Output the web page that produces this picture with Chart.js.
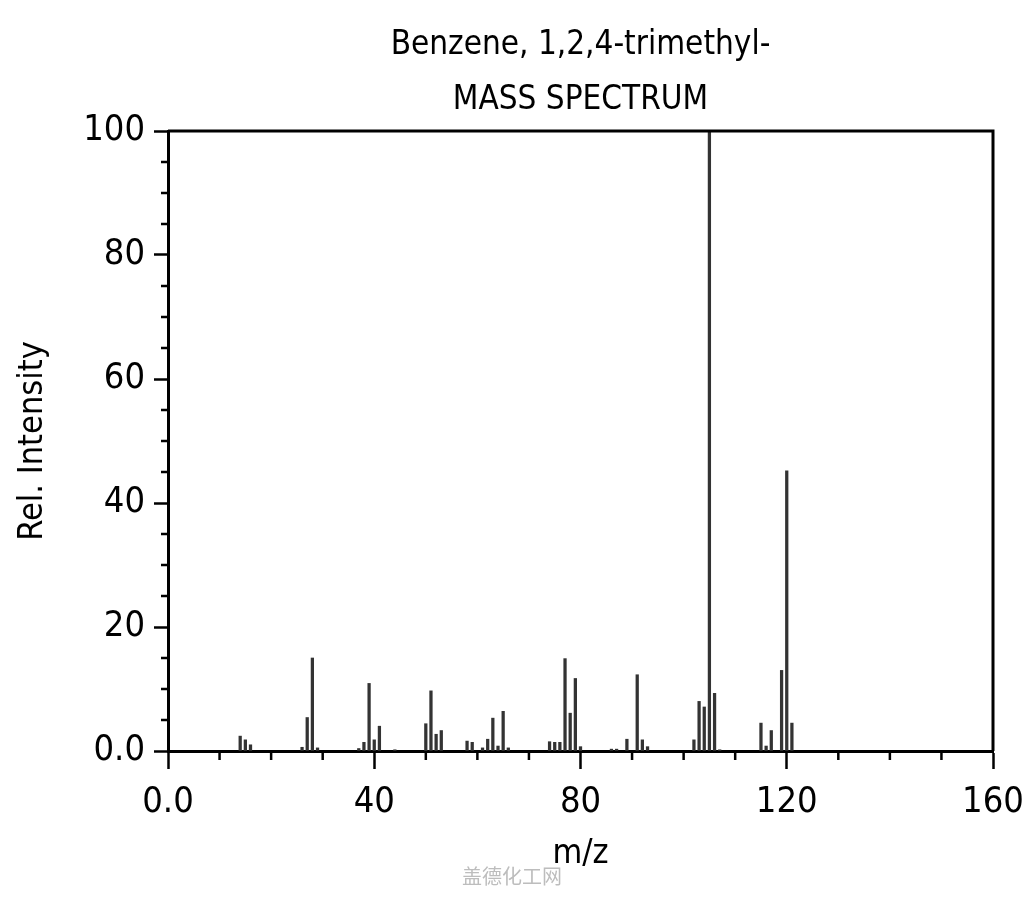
<!DOCTYPE html>
<html>
<head>
<meta charset="utf-8">
<script src="https://cdn.jsdelivr.net/npm/chart.js@4.4.0/dist/chart.umd.min.js"></script>
<style>
  body { margin: 0; background: #fff; }
  canvas { display: block; }
</style>
</head>
<body>
<canvas id="spec" width="1024" height="900"></canvas>
<script>
// peaks (m/z, relative intensity)
const mzValues = [14, 15, 16, 26, 27, 28, 29, 37, 38, 39, 40, 41, 44, 50, 51, 52, 53, 58, 59,
    61, 62, 63, 64, 65, 66, 74, 75, 76, 77, 78, 79, 80, 86, 87, 89, 91, 92, 93,
    102, 103, 104, 105, 106, 107, 115, 116, 117, 119, 120, 121];
const intensities = [2.4, 1.8, 1.0, 0.6, 5.4, 15.0, 0.5, 0.4, 1.4, 10.9, 1.8, 4.0, 0.2, 4.4, 9.7, 2.7, 3.3, 1.6, 1.4,
    0.5, 1.9, 5.3, 0.8, 6.4, 0.5, 1.5, 1.4, 1.4, 14.9, 6.1, 11.7, 0.7, 0.3, 0.3, 1.9, 12.3, 1.8, 0.7,
    1.8, 8.0, 7.1, 100, 9.3, 0.2, 4.5, 0.8, 3.3, 13.0, 45.2, 4.5];
const titleLines = ['Benzene, 1,2,4-trimethyl-', 'MASS SPECTRUM'];
const xTicks = [0, 40, 80, 120, 160];
const yTicks = [0, 20, 40, 60, 80, 100];

const FONT = '"DejaVu Sans Condensed", "DejaVu Sans", sans-serif';

let peaks = []
for (let i = 0; i < mzValues.length; i++) {
    peaks.push({ x: mzValues[i], y: intensities[i] });
}

// title, minor ticks, top/right frame and the watermark
const extrasPlugin = {
    id: 'extras',
    afterDraw(chart) {
        const ctx = chart.ctx;
        const area = chart.chartArea;
        const xs = chart.scales.x;
        const ys = chart.scales.y;
        ctx.save();
        ctx.strokeStyle = '#000';
        ctx.lineWidth = 2.5;
        ctx.beginPath();
        for (let v = 10; v < 160; v += 10) {
            if (v % 40 == 0) continue;
            let px = xs.getPixelForValue(v);
            ctx.moveTo(px, area.bottom);
            ctx.lineTo(px, area.bottom + 9);
        }
        for (let v = 5; v < 100; v += 5) {
            if (v % 20 == 0) continue;
            let py = ys.getPixelForValue(v);
            ctx.moveTo(area.left, py);
            ctx.lineTo(area.left - 7, py);
        }
        ctx.stroke();

        // frame on top and right
        ctx.lineWidth = 3;
        ctx.beginPath();
        ctx.moveTo(area.left, area.top);
        ctx.lineTo(area.right, area.top);
        ctx.lineTo(area.right, area.bottom);
        ctx.stroke();

        // two line title, centred over the plot
        let cx = (area.left + area.right) / 2;
        ctx.fillStyle = '#000';
        ctx.font = '33px ' + FONT;
        ctx.textAlign = 'center';
        ctx.textBaseline = 'middle';
        ctx.fillText(titleLines[0], cx, 45);
        ctx.fillText(titleLines[1], cx, 100);

        ctx.fillStyle = '#bdbdbd';
        ctx.font = '20px "Noto Sans CJK SC"';
        ctx.fillText('盖德化工网', 512, 876);
        ctx.restore();
    }
};

const ctx = document.getElementById('spec');
const chart = new Chart(ctx, {
    type: 'bar',
    data: {
        datasets: [{
            data: peaks,
            backgroundColor: '#333333',
            barThickness: 2.6,
            grouped: false
        }]
    },
    options: {
        responsive: false,
        animation: false,
        devicePixelRatio: 1,
        layout: { padding: { left: 0, right: 31, top: 131, bottom: 0 } },
        plugins: {
            legend: { display: false },
            tooltip: { enabled: false },
            title: { display: false }
        },
        scales: {
            x: {
                type: 'linear',
                min: 0,
                max: 160,
                offset: false,
                afterBuildTicks: s => { s.ticks = xTicks.map(v => ({ value: v })); },
                afterFit: s => { s.height = 149; s.paddingLeft = 0; s.paddingRight = 0; },
                ticks: {
                    color: '#000',
                    padding: 12,
                    maxRotation: 0,
                    font: { family: FONT, size: 36 },
                    callback: v => v == 0 ? '0.0' : String(v)
                },
                grid: { offset: false, drawOnChartArea: false, tickLength: 18, tickWidth: 2.5, tickColor: '#000' },
                border: { color: '#000', width: 3 },
                title: {
                    display: true,
                    text: 'm/z',
                    color: '#000',
                    font: { family: FONT, size: 34 },
                    padding: { top: 0, bottom: 25 }
                }
            },
            y: {
                min: 0,
                max: 100,
                afterBuildTicks: s => { s.ticks = yTicks.map(v => ({ value: v })); },
                afterFit: s => { s.width = 168; s.paddingTop = 0; s.paddingBottom = 0; },
                ticks: {
                    color: '#000',
                    padding: 9,
                    font: { family: FONT, size: 36 },
                    callback: v => v == 0 ? '0.0' : String(v)
                },
                grid: { drawOnChartArea: false, tickLength: 14, tickWidth: 2.5, tickColor: '#000' },
                border: { color: '#000', width: 3 },
                title: {
                    display: true,
                    text: 'Rel. Intensity',
                    color: '#000',
                    font: { family: FONT, size: 34 },
                    padding: { top: 13, bottom: 0 }
                }
            }
        }
    },
    plugins: [extrasPlugin]
});
</script>
</body>
</html>
